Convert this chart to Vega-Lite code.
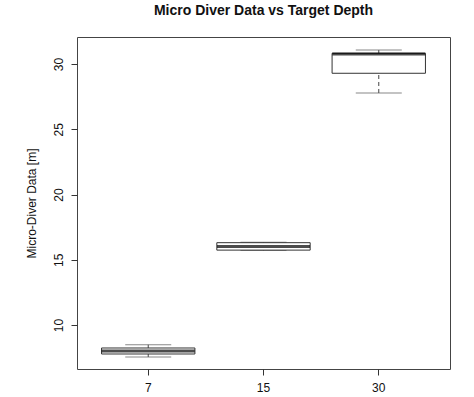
{
  "$schema": "https://vega.github.io/schema/vega-lite/v6.json",
  "width": 373,
  "height": 332,
  "autosize": {"type": "none"},
  "padding": {"left": 77, "top": 37, "right": 24, "bottom": 28},
  "background": "white",
  "title": {
    "text": "Micro Diver Data vs Target Depth",
    "font": "Liberation Sans",
    "fontSize": 14,
    "fontWeight": "bold",
    "color": "#111",
    "anchor": "middle",
    "offset": 19
  },
  "config": {
    "view": {"stroke": "#444", "strokeWidth": 1},
    "font": "Liberation Sans"
  },
  "data": {
    "values": [
      {"depth": "7", "lo": 7.55, "q1": 7.78, "med": 8.01, "q3": 8.24, "hi": 8.49},
      {"depth": "15", "lo": 15.72, "q1": 15.74, "med": 16.02, "q3": 16.31, "hi": 16.34},
      {"depth": "30", "lo": 27.78, "q1": 29.29, "med": 30.77, "q3": 30.82, "hi": 31.07}
    ]
  },
  "encoding": {
    "x": {
      "field": "depth",
      "type": "ordinal",
      "sort": ["7", "15", "30"],
      "scale": {"paddingInner": 0.19, "paddingOuter": 0.213},
      "axis": {
        "title": null,
        "labelAngle": 0,
        "domain": false,
        "grid": false,
        "tickSize": 6,
        "tickColor": "#333",
        "labelPadding": 7,
        "labelFontSize": 12,
        "labelColor": "#111"
      }
    }
  },
  "layer": [
    {
      "mark": {"type": "rule", "strokeDash": [4, 3], "color": "#444", "strokeWidth": 1},
      "encoding": {
        "y": {
          "field": "lo",
          "type": "quantitative",
          "scale": {"domain": [6.63, 32.07], "nice": false, "zero": false},
          "axis": {
            "title": "Micro-Diver Data [m]",
            "titleFontSize": 12,
            "titleFontWeight": "normal",
            "titleColor": "#111",
            "titlePadding": 14,
            "values": [10, 15, 20, 25, 30],
            "labelAngle": 270,
            "labelFontSize": 12,
            "labelColor": "#111",
            "labelPadding": 6,
            "tickSize": 6,
            "tickColor": "#333",
            "domain": false,
            "grid": false
          }
        },
        "y2": {"field": "q1"}
      }
    },
    {
      "mark": {"type": "rule", "strokeDash": [4, 3], "color": "#444", "strokeWidth": 1},
      "encoding": {
        "y": {"field": "q3", "type": "quantitative"},
        "y2": {"field": "hi"}
      }
    },
    {
      "mark": {"type": "tick", "size": 46, "thickness": 1, "color": "#555"},
      "encoding": {"y": {"field": "lo", "type": "quantitative"}}
    },
    {
      "mark": {"type": "tick", "size": 46, "thickness": 1, "color": "#555"},
      "encoding": {"y": {"field": "hi", "type": "quantitative"}}
    },
    {
      "mark": {"type": "bar", "fill": "white", "stroke": "#333", "strokeWidth": 1},
      "encoding": {
        "y": {"field": "q1", "type": "quantitative"},
        "y2": {"field": "q3"}
      }
    },
    {
      "mark": {"type": "tick", "size": 93, "thickness": 3, "color": "#000"},
      "encoding": {"y": {"field": "med", "type": "quantitative"}}
    }
  ]
}
